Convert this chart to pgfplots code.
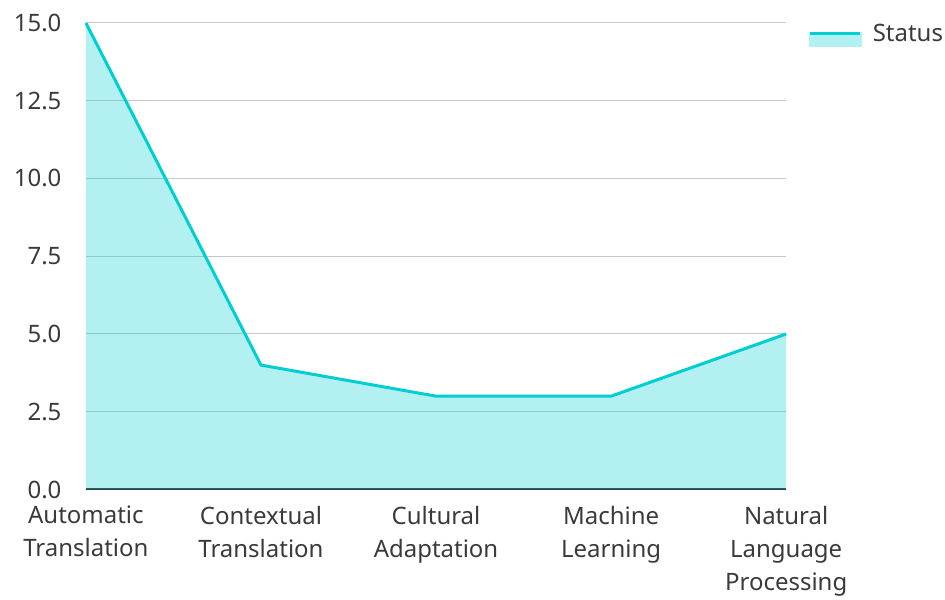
\documentclass[border=0pt]{standalone}
\usepackage{pgfplots}
\pgfplotsset{compat=1.18}
\usepackage{fontspec}
\setmainfont{Noto Sans}
\definecolor{teal1}{HTML}{00CED1}
\definecolor{txt}{HTML}{3A3A3A}
\definecolor{gridc}{HTML}{C8C8C8}
\definecolor{axc}{HTML}{333333}
\begin{document}
\begin{tikzpicture}
\begin{axis}[
  scale only axis, width=701pt, height=467pt,
  xmin=0, xmax=4, ymin=0, ymax=15,
  xtick={0,1,2,3,4},
  xticklabels={Automatic\\Translation, Contextual\\Translation, Cultural\\Adaptation, Machine\\Learning, Natural\\Language\\Processing},
  ytick={0,2.5,5,7.5,10,12.5,15},
  yticklabel={\pgfmathprintnumber[fixed,fixed zerofill,precision=1]{\tick}},
  /pgf/number format/assume math mode=true,
  major tick length=0pt,
  ymajorgrids, grid style={gridc, line width=1pt},
  axis line style={draw=none},
  tick label style={font=\fontsize{24}{33}\selectfont, text=txt},
  xticklabel style={align=center, yshift=-13pt},
  yticklabel style={xshift=-21pt},
  extra y ticks={0}, extra y tick labels={},
  extra y tick style={grid style={axc, line width=2pt}},
  clip=false,
  legend style={draw=none, fill=none, at={(1,1)}, anchor=north west, xshift=22pt, yshift=1pt,
    font=\fontsize{24}{28}\selectfont, text=txt, inner sep=0pt, column sep=9pt},
  legend cell align=left,
]
\addplot[draw=none, fill=teal1, fill opacity=0.3, forget plot] coordinates {(0,15) (1,4) (2,3) (3,3) (4,5)} \closedcycle;
\addplot[teal1, line width=3pt, mark=none,
  legend image code/.code={
    \fill[teal1!30] (0pt,0pt) rectangle (50pt,-12pt);
    \draw[teal1, line width=3.5pt] (0pt,0pt) -- (50pt,0pt);
  }] coordinates {(0,15) (1,4) (2,3) (3,3) (4,5)};
\addlegendentry{Status}
\end{axis}
\path ([shift={(-86pt,-107pt)}]current axis.south west) rectangle ([shift={(158pt,23pt)}]current axis.north east);
\end{tikzpicture}
\end{document}
